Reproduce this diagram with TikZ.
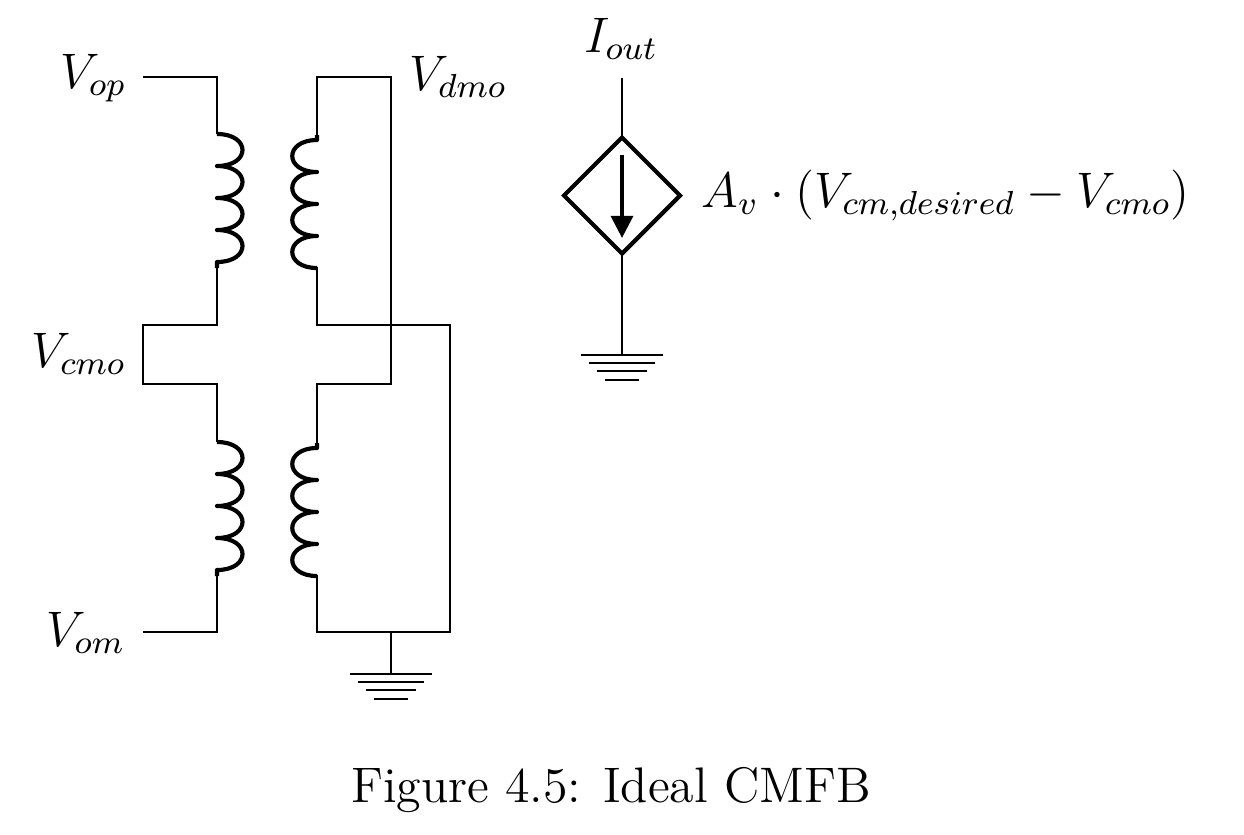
\documentclass[tikz,border=0pt,12pt]{standalone}
\usepackage{amsmath}
\usetikzlibrary{shapes.geometric,arrows.meta}

\tikzset{
    wire/.style={line width=0.42pt},
    coilwire/.style={line width=1pt,line join=round},
    groundbar/.style={line width=0.7pt},
    label/.style={inner sep=0pt,anchor=base east},
}

\begin{document}
\begin{tikzpicture}[x=0.2403pt,y=-0.2403pt]
    \pgfmathsetmacro{\firstCol}{143}
    \pgfmathsetmacro{\secondCol}{217}
    \pgfmathsetmacro{\thirdCol}{317}
    \pgfmathsetmacro{\fourthCol}{391}
    \pgfmathsetmacro{\fifthCol}{450}
    \pgfmathsetmacro{\sourceCol}{622}

    \useasboundingbox (0,0) rectangle (1244,834);

    % corners of the wiring
    \coordinate (op) at (\firstCol,77);
    \coordinate (opc) at (\secondCol,77);
    \coordinate (dt) at (\thirdCol,77);
    \coordinate (dtc) at (\fourthCol,77);
    \coordinate (dmb) at (\fourthCol,384);
    \coordinate (dmc) at (\thirdCol,384);
    \coordinate (cmt) at (\firstCol,325);
    \coordinate (cmtc) at (\secondCol,325);
    \coordinate (cmb) at (\firstCol,384);
    \coordinate (cmbc) at (\secondCol,384);
    \coordinate (rt) at (\thirdCol,325);
    \coordinate (rtc) at (\fifthCol,325);
    \coordinate (rb) at (\fifthCol,632);
    \coordinate (rbc) at (\thirdCol,632);
    \coordinate (om) at (\firstCol,632);
    \coordinate (omc) at (\secondCol,632);
    \coordinate (gndtop) at (\fourthCol,632);
    \coordinate (gndA) at (\fourthCol,674);
    \coordinate (gndB) at (\sourceCol,355);

    % coil ends
    \coordinate (l1a) at (\secondCol,134);
    \coordinate (l1b) at (\secondCol,267);
    \coordinate (l2a) at (\thirdCol,135);
    \coordinate (l2b) at (\thirdCol,267);
    \coordinate (l3a) at (\secondCol,442);
    \coordinate (l3b) at (\secondCol,574);
    \coordinate (l4a) at (\thirdCol,443);
    \coordinate (l4b) at (\thirdCol,575);

    % windings, bulge to the right on the left side
    \foreach \c in {l1a,l3a}
    \draw[coilwire] (\c) .. controls +(34,0) and +(34,0) .. ++(0,32)
        .. controls +(34,0) and +(34,0) .. ++(0,32)
        .. controls +(34,0) and +(34,0) .. ++(0,32)
        .. controls +(34,0) and +(34,0) .. ++(0,32) -- ++(0,6);
    \foreach \c in {l2a,l4a}
    \draw[coilwire] (\c) -- ++(0,5) .. controls +(-33,0) and +(-33,0) .. ++(0,32)
        .. controls +(-33,0) and +(-33,0) .. ++(0,32)
        .. controls +(-33,0) and +(-33,0) .. ++(0,32)
        .. controls +(-33,0) and +(-33,0) .. ++(0,32);

    % wiring
    \draw[wire] (op) -- (opc) -- (l1a);
    \draw[wire] (l2a) -- (dt) -- (dtc) -- (dmb) -- (dmc) -- (l4a);
    \draw[wire] (l1b) -- (cmtc) -- (cmt) -- (cmb) -- (cmbc) -- (l3a);
    \draw[wire] (l2b) -- (rt) -- (rtc) -- (rb) -- (rbc) -- (l4b);
    \draw[wire] (l3b) -- (omc) -- (om);
    \draw[wire] (gndtop) -- (gndA);

    % controlled source
    \node[draw, diamond, line width=1pt, inner sep=0pt, outer sep=0pt, minimum size=27.9pt] (src) at (\sourceCol,195.5) {};
    \coordinate (iout) at (\sourceCol,78);
    \coordinate (arrowa) at (\sourceCol,155);
    \coordinate (arrowb) at (\sourceCol,238);
    \draw[wire] (iout) -- (src.north);
    \draw[wire] (src.south) -- (gndB);
    \draw[line width=1pt, -{Triangle[length=5.3pt,width=5.2pt]}] (arrowa) -- (arrowb);

    % both grounds
    \foreach \g in {gndA,gndB}
    \foreach \w/\d in {41/0,33/8,25/16,17/25}
    \draw[groundbar] ([shift={(-\w,\d)}]\g) -- ([shift={(\w,\d)}]\g);

    % labels
    \node[label] (vop) at (127,88) {$V_{op}$};
    \node[label] (vcmo) at (127,367) {$V_{cmo}$};
    \node[label] (vom) at (126,646) {$V_{om}$};
    \node[label, anchor=base west] (vdmo) at (409,90) {$V_{dmo}$};
    \node[label, anchor=base] (ioutl) at (621,52) {$I_{out}$};
    \node[label, anchor=base west] (gain) at (701,207) {$A_v \cdot (V_{cm,desired} - V_{cmo})$};
    \node[label, anchor=base] (caption) at (611,802) {Figure 4.5: Ideal CMFB};
\end{tikzpicture}
\end{document}
